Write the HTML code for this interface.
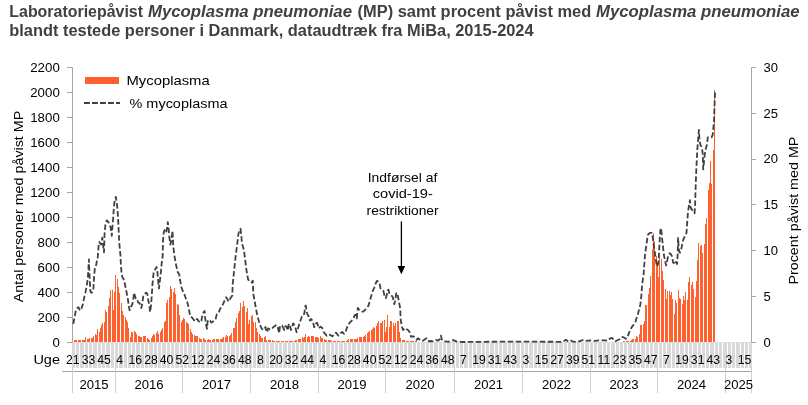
<!DOCTYPE html><html><head><meta charset="utf-8"><style>html,body{margin:0;padding:0;background:#fff;}svg{display:block;will-change:transform;}text{font-family:"Liberation Sans",sans-serif;}</style></head><body>
<svg width="808" height="405" viewBox="0 0 808 405">
<rect width="808" height="405" fill="#fff"/>
<text x="9.3" y="16.7" font-size="16" font-weight="bold" font-style="normal" fill="#404040" textLength="133.7" lengthAdjust="spacingAndGlyphs">Laboratoriepåvist</text>
<text x="148" y="16.7" font-size="16" font-weight="bold" font-style="italic" fill="#404040" textLength="204" lengthAdjust="spacingAndGlyphs">Mycoplasma pneumoniae</text>
<text x="357.6" y="16.7" font-size="16" font-weight="bold" font-style="normal" fill="#404040" textLength="233.6" lengthAdjust="spacingAndGlyphs">(MP) samt procent påvist med</text>
<text x="596" y="16.7" font-size="16" font-weight="bold" font-style="italic" fill="#404040" textLength="203.6" lengthAdjust="spacingAndGlyphs">Mycoplasma pneumoniae</text>
<text x="9.3" y="36.3" font-size="16" font-weight="bold" font-style="normal" fill="#404040" textLength="524.3" lengthAdjust="spacingAndGlyphs">blandt testede personer i Danmark, dataudtræk fra MiBa, 2015-2024</text>
<path d="M72.5 343V367.5M73.5 343V367.5M74.5 343V367.5M76.5 343V367.5M77.5 343V367.5M78.5 343V367.5M80.5 343V367.5M81.5 343V367.5M82.5 343V367.5M83.5 343V367.5M85.5 343V367.5M86.5 343V367.5M87.5 343V367.5M89.5 343V367.5M90.5 343V367.5M91.5 343V367.5M93.5 343V367.5M94.5 343V367.5M95.5 343V367.5M96.5 343V367.5M98.5 343V367.5M99.5 343V367.5M100.5 343V367.5M102.5 343V367.5M103.5 343V367.5M104.5 343V367.5M106.5 343V367.5M107.5 343V367.5M108.5 343V367.5M109.5 343V367.5M111.5 343V367.5M112.5 343V367.5M113.5 343V367.5M115.5 343V367.5M116.5 343V367.5M117.5 343V367.5M119.5 343V367.5M120.5 343V367.5M121.5 343V367.5M122.5 343V367.5M124.5 343V367.5M125.5 343V367.5M126.5 343V367.5M128.5 343V367.5M129.5 343V367.5M130.5 343V367.5M132.5 343V367.5M133.5 343V367.5M134.5 343V367.5M136.5 343V367.5M137.5 343V367.5M138.5 343V367.5M139.5 343V367.5M141.5 343V367.5M142.5 343V367.5M143.5 343V367.5M145.5 343V367.5M146.5 343V367.5M147.5 343V367.5M149.5 343V367.5M150.5 343V367.5M151.5 343V367.5M152.5 343V367.5M154.5 343V367.5M155.5 343V367.5M156.5 343V367.5M158.5 343V367.5M159.5 343V367.5M160.5 343V367.5M162.5 343V367.5M163.5 343V367.5M164.5 343V367.5M165.5 343V367.5M167.5 343V367.5M168.5 343V367.5M169.5 343V367.5M171.5 343V367.5M172.5 343V367.5M173.5 343V367.5M175.5 343V367.5M176.5 343V367.5M177.5 343V367.5M178.5 343V367.5M180.5 343V367.5M181.5 343V367.5M182.5 343V367.5M184.5 343V367.5M185.5 343V367.5M186.5 343V367.5M188.5 343V367.5M189.5 343V367.5M190.5 343V367.5M191.5 343V367.5M193.5 343V367.5M194.5 343V367.5M195.5 343V367.5M197.5 343V367.5M198.5 343V367.5M199.5 343V367.5M201.5 343V367.5M202.5 343V367.5M203.5 343V367.5M204.5 343V367.5M206.5 343V367.5M207.5 343V367.5M208.5 343V367.5M210.5 343V367.5M211.5 343V367.5M212.5 343V367.5M214.5 343V367.5M215.5 343V367.5M216.5 343V367.5M218.5 343V367.5M219.5 343V367.5M220.5 343V367.5M221.5 343V367.5M223.5 343V367.5M224.5 343V367.5M225.5 343V367.5M227.5 343V367.5M228.5 343V367.5M229.5 343V367.5M231.5 343V367.5M232.5 343V367.5M233.5 343V367.5M234.5 343V367.5M236.5 343V367.5M237.5 343V367.5M238.5 343V367.5M240.5 343V367.5M241.5 343V367.5M242.5 343V367.5M244.5 343V367.5M245.5 343V367.5M246.5 343V367.5M247.5 343V367.5M249.5 343V367.5M250.5 343V367.5M251.5 343V367.5M253.5 343V367.5M254.5 343V367.5M255.5 343V367.5M257.5 343V367.5M258.5 343V367.5M259.5 343V367.5M260.5 343V367.5M262.5 343V367.5M263.5 343V367.5M264.5 343V367.5M266.5 343V367.5M267.5 343V367.5M268.5 343V367.5M270.5 343V367.5M271.5 343V367.5M272.5 343V367.5M273.5 343V367.5M275.5 343V367.5M276.5 343V367.5M277.5 343V367.5M279.5 343V367.5M280.5 343V367.5M281.5 343V367.5M283.5 343V367.5M284.5 343V367.5M285.5 343V367.5M286.5 343V367.5M288.5 343V367.5M289.5 343V367.5M290.5 343V367.5M292.5 343V367.5M293.5 343V367.5M294.5 343V367.5M296.5 343V367.5M297.5 343V367.5M298.5 343V367.5M300.5 343V367.5M301.5 343V367.5M302.5 343V367.5M303.5 343V367.5M305.5 343V367.5M306.5 343V367.5M307.5 343V367.5M309.5 343V367.5M310.5 343V367.5M311.5 343V367.5M313.5 343V367.5M314.5 343V367.5M315.5 343V367.5M316.5 343V367.5M318.5 343V367.5M319.5 343V367.5M320.5 343V367.5M322.5 343V367.5M323.5 343V367.5M324.5 343V367.5M326.5 343V367.5M327.5 343V367.5M328.5 343V367.5M329.5 343V367.5M331.5 343V367.5M332.5 343V367.5M333.5 343V367.5M335.5 343V367.5M336.5 343V367.5M337.5 343V367.5M339.5 343V367.5M340.5 343V367.5M341.5 343V367.5M342.5 343V367.5M344.5 343V367.5M345.5 343V367.5M346.5 343V367.5M348.5 343V367.5M349.5 343V367.5M350.5 343V367.5M352.5 343V367.5M353.5 343V367.5M354.5 343V367.5M355.5 343V367.5M357.5 343V367.5M358.5 343V367.5M359.5 343V367.5M361.5 343V367.5M362.5 343V367.5M363.5 343V367.5M365.5 343V367.5M366.5 343V367.5M367.5 343V367.5M368.5 343V367.5M370.5 343V367.5M371.5 343V367.5M372.5 343V367.5M374.5 343V367.5M375.5 343V367.5M376.5 343V367.5M378.5 343V367.5M379.5 343V367.5M380.5 343V367.5M382.5 343V367.5M383.5 343V367.5M384.5 343V367.5M385.5 343V367.5M387.5 343V367.5M388.5 343V367.5M389.5 343V367.5M391.5 343V367.5M392.5 343V367.5M393.5 343V367.5M395.5 343V367.5M396.5 343V367.5M397.5 343V367.5M398.5 343V367.5M400.5 343V367.5M401.5 343V367.5M402.5 343V367.5M404.5 343V367.5M405.5 343V367.5M406.5 343V367.5M408.5 343V367.5M409.5 343V367.5M410.5 343V367.5M411.5 343V367.5M413.5 343V367.5M414.5 343V367.5M415.5 343V367.5M417.5 343V367.5M418.5 343V367.5M419.5 343V367.5M421.5 343V367.5M422.5 343V367.5M423.5 343V367.5M424.5 343V367.5M426.5 343V367.5M427.5 343V367.5M428.5 343V367.5M430.5 343V367.5M431.5 343V367.5M432.5 343V367.5M434.5 343V367.5M435.5 343V367.5M436.5 343V367.5M437.5 343V367.5M439.5 343V367.5M440.5 343V367.5M441.5 343V367.5M443.5 343V367.5M444.5 343V367.5M445.5 343V367.5M447.5 343V367.5M448.5 343V367.5M449.5 343V367.5M450.5 343V367.5M452.5 343V367.5M453.5 343V367.5M454.5 343V367.5M456.5 343V367.5M457.5 343V367.5M458.5 343V367.5M460.5 343V367.5M461.5 343V367.5M462.5 343V367.5M464.5 343V367.5M465.5 343V367.5M466.5 343V367.5M467.5 343V367.5M469.5 343V367.5M470.5 343V367.5M471.5 343V367.5M473.5 343V367.5M474.5 343V367.5M475.5 343V367.5M477.5 343V367.5M478.5 343V367.5M479.5 343V367.5M480.5 343V367.5M482.5 343V367.5M483.5 343V367.5M484.5 343V367.5M486.5 343V367.5M487.5 343V367.5M488.5 343V367.5M490.5 343V367.5M491.5 343V367.5M492.5 343V367.5M493.5 343V367.5M495.5 343V367.5M496.5 343V367.5M497.5 343V367.5M499.5 343V367.5M500.5 343V367.5M501.5 343V367.5M503.5 343V367.5M504.5 343V367.5M505.5 343V367.5M506.5 343V367.5M508.5 343V367.5M509.5 343V367.5M510.5 343V367.5M512.5 343V367.5M513.5 343V367.5M514.5 343V367.5M516.5 343V367.5M517.5 343V367.5M518.5 343V367.5M519.5 343V367.5M521.5 343V367.5M522.5 343V367.5M523.5 343V367.5M525.5 343V367.5M526.5 343V367.5M527.5 343V367.5M529.5 343V367.5M530.5 343V367.5M531.5 343V367.5M532.5 343V367.5M534.5 343V367.5M535.5 343V367.5M536.5 343V367.5M538.5 343V367.5M539.5 343V367.5M540.5 343V367.5M542.5 343V367.5M543.5 343V367.5M544.5 343V367.5M546.5 343V367.5M547.5 343V367.5M548.5 343V367.5M549.5 343V367.5M551.5 343V367.5M552.5 343V367.5M553.5 343V367.5M555.5 343V367.5M556.5 343V367.5M557.5 343V367.5M559.5 343V367.5M560.5 343V367.5M561.5 343V367.5M562.5 343V367.5M564.5 343V367.5M565.5 343V367.5M566.5 343V367.5M568.5 343V367.5M569.5 343V367.5M570.5 343V367.5M572.5 343V367.5M573.5 343V367.5M574.5 343V367.5M575.5 343V367.5M577.5 343V367.5M578.5 343V367.5M579.5 343V367.5M581.5 343V367.5M582.5 343V367.5M583.5 343V367.5M585.5 343V367.5M586.5 343V367.5M587.5 343V367.5M588.5 343V367.5M590.5 343V367.5M591.5 343V367.5M592.5 343V367.5M594.5 343V367.5M595.5 343V367.5M596.5 343V367.5M598.5 343V367.5M599.5 343V367.5M600.5 343V367.5M601.5 343V367.5M603.5 343V367.5M604.5 343V367.5M605.5 343V367.5M607.5 343V367.5M608.5 343V367.5M609.5 343V367.5M611.5 343V367.5M612.5 343V367.5M613.5 343V367.5M614.5 343V367.5M616.5 343V367.5M617.5 343V367.5M618.5 343V367.5M620.5 343V367.5M621.5 343V367.5M622.5 343V367.5M624.5 343V367.5M625.5 343V367.5M626.5 343V367.5M628.5 343V367.5M629.5 343V367.5M630.5 343V367.5M631.5 343V367.5M633.5 343V367.5M634.5 343V367.5M635.5 343V367.5M637.5 343V367.5M638.5 343V367.5M639.5 343V367.5M641.5 343V367.5M642.5 343V367.5M643.5 343V367.5M644.5 343V367.5M646.5 343V367.5M647.5 343V367.5M648.5 343V367.5M650.5 343V367.5M651.5 343V367.5M652.5 343V367.5M654.5 343V367.5M655.5 343V367.5M656.5 343V367.5M657.5 343V367.5M659.5 343V367.5M660.5 343V367.5M661.5 343V367.5M663.5 343V367.5M664.5 343V367.5M665.5 343V367.5M667.5 343V367.5M668.5 343V367.5M669.5 343V367.5M670.5 343V367.5M672.5 343V367.5M673.5 343V367.5M674.5 343V367.5M676.5 343V367.5M677.5 343V367.5M678.5 343V367.5M680.5 343V367.5M681.5 343V367.5M682.5 343V367.5M683.5 343V367.5M685.5 343V367.5M686.5 343V367.5M687.5 343V367.5M689.5 343V367.5M690.5 343V367.5M691.5 343V367.5M693.5 343V367.5M694.5 343V367.5M695.5 343V367.5M696.5 343V367.5M698.5 343V367.5M699.5 343V367.5M700.5 343V367.5M702.5 343V367.5M703.5 343V367.5M704.5 343V367.5M706.5 343V367.5M707.5 343V367.5M708.5 343V367.5M710.5 343V367.5M711.5 343V367.5M712.5 343V367.5M713.5 343V367.5M715.5 343V367.5M716.5 343V367.5M717.5 343V367.5M719.5 343V367.5M720.5 343V367.5M721.5 343V367.5M723.5 343V367.5M724.5 343V367.5M725.5 343V367.5M726.5 343V367.5M728.5 343V367.5M729.5 343V367.5M730.5 343V367.5M732.5 343V367.5M733.5 343V367.5M734.5 343V367.5M736.5 343V367.5M737.5 343V367.5M738.5 343V367.5M739.5 343V367.5M741.5 343V367.5M742.5 343V367.5M743.5 343V367.5M745.5 343V367.5M746.5 343V367.5M747.5 343V367.5M749.5 343V367.5M750.5 343V367.5M751.5 343V367.5" stroke="#d9d9d9" stroke-width="1" fill="none" shape-rendering="crispEdges"/>
<path d="M72 342.5H752" stroke="#dadfdf" stroke-width="1" shape-rendering="crispEdges"/>
<path d="M72 342h1V340h-1ZM74 342h1V340h-1ZM75 342h1V339.5h-1ZM76 342h1V339.5h-1ZM78 342h1V340h-1ZM79 342h1V339.5h-1ZM80 342h1V339.5h-1ZM82 342h1V339.5h-1ZM83 342h1V339.5h-1ZM84 342h1V339.5h-1ZM85 342h1V337h-1ZM87 342h1V339h-1ZM88 342h1V338.5h-1ZM89 342h1V338h-1ZM91 342h1V338h-1ZM92 342h1V338h-1ZM93 342h1V336h-1ZM95 342h1V333.5h-1ZM96 342h1V334.5h-1ZM97 342h1V329h-1ZM99 342h1V332h-1ZM100 342h1V327.5h-1ZM101 342h1V325h-1ZM102 342h1V322.5h-1ZM104 342h1V321.5h-1ZM105 342h1V309.5h-1ZM106 342h1V311.5h-1ZM108 342h1V306h-1ZM109 342h1V297.5h-1ZM110 342h1V289.5h-1ZM112 342h1V289.5h-1ZM113 342h1V309.5h-1ZM114 342h1V292h-1ZM115 342h1V274.5h-1ZM117 342h1V279h-1ZM118 342h1V286.5h-1ZM119 342h1V293h-1ZM121 342h1V303h-1ZM122 342h1V310.5h-1ZM123 342h1V315h-1ZM125 342h1V317h-1ZM126 342h1V319.5h-1ZM127 342h1V321.5h-1ZM128 342h1V327.5h-1ZM130 342h1V336.5h-1ZM131 342h1V332h-1ZM132 342h1V331.5h-1ZM134 342h1V331h-1ZM135 342h1V332h-1ZM136 342h1V333.5h-1ZM138 342h1V335.5h-1ZM139 342h1V336h-1ZM140 342h1V336.5h-1ZM141 342h1V336.5h-1ZM143 342h1V336h-1ZM144 342h1V335.5h-1ZM145 342h1V336h-1ZM147 342h1V338h-1ZM148 342h1V338.5h-1ZM149 342h1V339.5h-1ZM151 342h1V338h-1ZM152 342h1V336h-1ZM153 342h1V333.5h-1ZM154 342h1V335h-1ZM156 342h1V333h-1ZM157 342h1V331h-1ZM158 342h1V333.5h-1ZM160 342h1V332h-1ZM161 342h1V329.5h-1ZM162 342h1V327.5h-1ZM164 342h1V321.5h-1ZM165 342h1V321h-1ZM166 342h1V302.5h-1ZM167 342h1V299.5h-1ZM169 342h1V296.5h-1ZM170 342h1V285.5h-1ZM171 342h1V289h-1ZM173 342h1V292h-1ZM174 342h1V287.5h-1ZM175 342h1V294h-1ZM177 342h1V304h-1ZM178 342h1V305h-1ZM179 342h1V314.5h-1ZM181 342h1V321.5h-1ZM182 342h1V320h-1ZM183 342h1V318h-1ZM184 342h1V319h-1ZM186 342h1V321.5h-1ZM187 342h1V322.5h-1ZM188 342h1V323.5h-1ZM190 342h1V329h-1ZM191 342h1V332h-1ZM192 342h1V333.5h-1ZM194 342h1V335h-1ZM195 342h1V336h-1ZM196 342h1V336h-1ZM197 342h1V336h-1ZM199 342h1V337.5h-1ZM200 342h1V339h-1ZM201 342h1V338.5h-1ZM203 342h1V337.5h-1ZM204 342h1V339h-1ZM205 342h1V339.5h-1ZM207 342h1V340h-1ZM208 342h1V338.5h-1ZM209 342h1V340h-1ZM210 342h1V340h-1ZM212 342h1V339.5h-1ZM213 342h1V339h-1ZM214 342h1V339h-1ZM216 342h1V339h-1ZM217 342h1V339h-1ZM218 342h1V339h-1ZM220 342h1V339h-1ZM221 342h1V338.5h-1ZM222 342h1V338h-1ZM223 342h1V337h-1ZM225 342h1V337h-1ZM226 342h1V335h-1ZM227 342h1V335.5h-1ZM229 342h1V335.5h-1ZM230 342h1V334.5h-1ZM231 342h1V333h-1ZM233 342h1V328h-1ZM234 342h1V327.5h-1ZM235 342h1V322h-1ZM236 342h1V317.5h-1ZM238 342h1V313h-1ZM239 342h1V310.5h-1ZM240 342h1V303h-1ZM242 342h1V307h-1ZM243 342h1V301h-1ZM244 342h1V305.5h-1ZM246 342h1V312h-1ZM247 342h1V308h-1ZM248 342h1V324h-1ZM249 342h1V320h-1ZM251 342h1V316h-1ZM252 342h1V315h-1ZM253 342h1V322h-1ZM255 342h1V322h-1ZM256 342h1V328h-1ZM257 342h1V331.5h-1ZM259 342h1V333.5h-1ZM260 342h1V336h-1ZM261 342h1V338h-1ZM262 342h1V338h-1ZM264 342h1V337h-1ZM265 342h1V336h-1ZM266 342h1V340h-1ZM268 342h1V340h-1ZM269 342h1V340h-1ZM270 342h1V340h-1ZM272 342h1V340h-1ZM273 342h1V340.5h-1ZM274 342h1V340.5h-1ZM276 342h1V340.5h-1ZM277 342h1V340.5h-1ZM278 342h1V340.5h-1ZM279 342h1V340.5h-1ZM281 342h1V340.5h-1ZM282 342h1V340.5h-1ZM283 342h1V340.5h-1ZM285 342h1V340.5h-1ZM286 342h1V340.5h-1ZM287 342h1V340.5h-1ZM289 342h1V340.5h-1ZM290 342h1V340.5h-1ZM291 342h1V340.5h-1ZM292 342h1V340.5h-1ZM294 342h1V340.5h-1ZM295 342h1V340h-1ZM296 342h1V340h-1ZM298 342h1V339h-1ZM299 342h1V338.5h-1ZM300 342h1V338.5h-1ZM302 342h1V337h-1ZM303 342h1V337.5h-1ZM304 342h1V337h-1ZM305 342h1V334h-1ZM307 342h1V337h-1ZM308 342h1V336h-1ZM309 342h1V336.5h-1ZM311 342h1V336h-1ZM312 342h1V336h-1ZM313 342h1V336h-1ZM315 342h1V336.5h-1ZM316 342h1V336.5h-1ZM317 342h1V337h-1ZM318 342h1V338h-1ZM320 342h1V336h-1ZM321 342h1V338h-1ZM322 342h1V337.5h-1ZM324 342h1V339h-1ZM325 342h1V340h-1ZM326 342h1V340h-1ZM328 342h1V340h-1ZM329 342h1V340h-1ZM330 342h1V340h-1ZM331 342h1V340.5h-1ZM333 342h1V340.5h-1ZM334 342h1V340.5h-1ZM335 342h1V340.5h-1ZM337 342h1V340.5h-1ZM338 342h1V340.5h-1ZM339 342h1V340.5h-1ZM341 342h1V340.5h-1ZM342 342h1V340.5h-1ZM343 342h1V340.5h-1ZM344 342h1V340.5h-1ZM346 342h1V340.5h-1ZM347 342h1V340h-1ZM348 342h1V339h-1ZM350 342h1V339h-1ZM351 342h1V339h-1ZM352 342h1V339h-1ZM354 342h1V339h-1ZM355 342h1V339h-1ZM356 342h1V338.5h-1ZM357 342h1V338h-1ZM359 342h1V337h-1ZM360 342h1V337h-1ZM361 342h1V337h-1ZM363 342h1V337h-1ZM364 342h1V336h-1ZM365 342h1V334.5h-1ZM367 342h1V333h-1ZM368 342h1V332h-1ZM369 342h1V330.5h-1ZM371 342h1V329.5h-1ZM372 342h1V329h-1ZM373 342h1V326.5h-1ZM374 342h1V327.5h-1ZM376 342h1V325.5h-1ZM377 342h1V322.5h-1ZM378 342h1V321h-1ZM380 342h1V322.5h-1ZM381 342h1V322.5h-1ZM382 342h1V320.5h-1ZM384 342h1V319.5h-1ZM385 342h1V332h-1ZM386 342h1V326.5h-1ZM387 342h1V315h-1ZM389 342h1V326.5h-1ZM390 342h1V321h-1ZM391 342h1V321h-1ZM393 342h1V322.5h-1ZM394 342h1V326h-1ZM395 342h1V322.5h-1ZM397 342h1V321h-1ZM398 342h1V321h-1ZM399 342h1V332h-1ZM400 342h1V338h-1ZM402 342h1V339.5h-1ZM403 342h1V340h-1ZM404 342h1V340h-1ZM406 342h1V340.5h-1ZM407 342h1V340.5h-1ZM408 342h1V340.5h-1ZM410 342h1V341h-1ZM411 342h1V341h-1ZM412 342h1V341h-1ZM413 342h1V341h-1ZM415 342h1V341h-1ZM416 342h1V341h-1ZM417 342h1V341.5h-1ZM419 342h1V341.5h-1ZM420 342h1V341.5h-1ZM421 342h1V341.5h-1ZM423 342h1V341.5h-1ZM424 342h1V341.5h-1ZM425 342h1V341.5h-1ZM426 342h1V341.5h-1ZM428 342h1V341.5h-1ZM429 342h1V341.5h-1ZM430 342h1V341.5h-1ZM432 342h1V341.5h-1ZM433 342h1V341.5h-1ZM434 342h1V341.5h-1ZM436 342h1V341.5h-1ZM437 342h1V341.5h-1ZM438 342h1V341.5h-1ZM439 342h1V341.5h-1ZM441 342h1V341.5h-1ZM442 342h1V341.5h-1ZM443 342h1V341.5h-1ZM445 342h1V341.5h-1ZM446 342h1V341.5h-1ZM447 342h1V341.5h-1ZM449 342h1V341.5h-1ZM450 342h1V341.5h-1ZM451 342h1V341.5h-1ZM453 342h1V341.5h-1ZM454 342h1V341.5h-1ZM455 342h1V341.5h-1ZM456 342h1V341.5h-1ZM458 342h1V341.5h-1ZM459 342h1V341.5h-1ZM460 342h1V341.5h-1ZM462 342h1V341.5h-1ZM463 342h1V341.5h-1ZM464 342h1V341.5h-1ZM466 342h1V341.5h-1ZM467 342h1V341.5h-1ZM564 342h1V341.5h-1ZM566 342h1V341.5h-1ZM567 342h1V341.5h-1ZM568 342h1V341.5h-1ZM570 342h1V341.5h-1ZM571 342h1V341.5h-1ZM572 342h1V341.5h-1ZM574 342h1V341.5h-1ZM575 342h1V341.5h-1ZM576 342h1V341.5h-1ZM577 342h1V341.5h-1ZM579 342h1V341.5h-1ZM580 342h1V341.5h-1ZM581 342h1V341.5h-1ZM583 342h1V341.5h-1ZM584 342h1V341.5h-1ZM585 342h1V341.5h-1ZM587 342h1V341.5h-1ZM588 342h1V341.5h-1ZM589 342h1V341.5h-1ZM590 342h1V341.5h-1ZM592 342h1V341.5h-1ZM593 342h1V341.5h-1ZM594 342h1V341.5h-1ZM596 342h1V341.5h-1ZM597 342h1V341.5h-1ZM598 342h1V341.5h-1ZM600 342h1V341.5h-1ZM601 342h1V341.5h-1ZM602 342h1V341.5h-1ZM603 342h1V341.5h-1ZM605 342h1V341.5h-1ZM606 342h1V341.5h-1ZM607 342h1V341.5h-1ZM609 342h1V341.5h-1ZM610 342h1V341.5h-1ZM611 342h1V341.5h-1ZM613 342h1V341.5h-1ZM614 342h1V341.5h-1ZM615 342h1V341.5h-1ZM616 342h1V341.5h-1ZM618 342h1V341.5h-1ZM619 342h1V341.5h-1ZM620 342h1V341.5h-1ZM622 342h1V341.5h-1ZM623 342h1V341h-1ZM624 342h1V341h-1ZM626 342h1V341h-1ZM627 342h1V341h-1ZM628 342h1V340.5h-1ZM630 342h1V340.5h-1ZM631 342h1V340h-1ZM632 342h1V338.5h-1ZM633 342h1V339h-1ZM635 342h1V339h-1ZM636 342h1V335.5h-1ZM637 342h1V337h-1ZM639 342h1V333.5h-1ZM640 342h1V324.5h-1ZM641 342h1V325h-1ZM643 342h1V323.5h-1ZM644 342h1V321h-1ZM645 342h1V305h-1ZM646 342h1V305h-1ZM648 342h1V294h-1ZM649 342h1V288h-1ZM650 342h1V275.5h-1ZM652 342h1V248.5h-1ZM653 342h1V233h-1ZM654 342h1V241h-1ZM656 342h1V256h-1ZM657 342h1V263h-1ZM658 342h1V277h-1ZM659 342h1V256.5h-1ZM661 342h1V259h-1ZM662 342h1V271h-1ZM663 342h1V280h-1ZM665 342h1V288.5h-1ZM666 342h1V299h-1ZM667 342h1V291h-1ZM669 342h1V291h-1ZM670 342h1V294.5h-1ZM671 342h1V292h-1ZM672 342h1V299h-1ZM674 342h1V314h-1ZM675 342h1V299.5h-1ZM676 342h1V303h-1ZM678 342h1V290h-1ZM679 342h1V297.5h-1ZM680 342h1V299h-1ZM682 342h1V304h-1ZM683 342h1V296h-1ZM684 342h1V299.5h-1ZM685 342h1V292h-1ZM687 342h1V299.5h-1ZM688 342h1V282h-1ZM689 342h1V277h-1ZM691 342h1V284.5h-1ZM692 342h1V282h-1ZM693 342h1V289h-1ZM695 342h1V297h-1ZM696 342h1V281h-1ZM697 342h1V260h-1ZM698 342h1V243h-1ZM700 342h1V245.5h-1ZM701 342h1V244.5h-1ZM702 342h1V253h-1ZM704 342h1V243.5h-1ZM705 342h1V223.5h-1ZM706 342h1V218h-1ZM708 342h1V189.5h-1ZM709 342h1V182.5h-1ZM710 342h1V161h-1ZM711 342h1V183.5h-1ZM713 342h1V150h-1ZM714 342h1V90h-1Z" fill="#FF612E" shape-rendering="crispEdges"/>
<path d="M72.5 67.4V342.4M751.5 67.4V342.4" stroke="#a6a6a6" stroke-width="1" fill="none"/>
<path d="M67 342.5H72.5M67 317.5H72.5M67 292.5H72.5M67 267.5H72.5M67 242.5H72.5M67 217.5H72.5M67 192.5H72.5M67 167.5H72.5M67 142.5H72.5M67 117.5H72.5M67 92.5H72.5M67 67.5H72.5M751.5 342.5H756M751.5 296.5H756M751.5 250.5H756M751.5 204.5H756M751.5 159.5H756M751.5 113.5H756M751.5 67.5H756" stroke="#a6a6a6" stroke-width="1" fill="none"/>
<text x="59.8" y="346.7" font-size="12.2" font-weight="normal" font-style="normal" fill="#000" text-anchor="end" textLength="7.39" lengthAdjust="spacingAndGlyphs">0</text>
<text x="59.8" y="321.7" font-size="12.2" font-weight="normal" font-style="normal" fill="#000" text-anchor="end" textLength="22.17" lengthAdjust="spacingAndGlyphs">200</text>
<text x="59.8" y="296.7" font-size="12.2" font-weight="normal" font-style="normal" fill="#000" text-anchor="end" textLength="22.17" lengthAdjust="spacingAndGlyphs">400</text>
<text x="59.8" y="271.7" font-size="12.2" font-weight="normal" font-style="normal" fill="#000" text-anchor="end" textLength="22.17" lengthAdjust="spacingAndGlyphs">600</text>
<text x="59.8" y="246.7" font-size="12.2" font-weight="normal" font-style="normal" fill="#000" text-anchor="end" textLength="22.17" lengthAdjust="spacingAndGlyphs">800</text>
<text x="59.8" y="221.7" font-size="12.2" font-weight="normal" font-style="normal" fill="#000" text-anchor="end" textLength="29.56" lengthAdjust="spacingAndGlyphs">1000</text>
<text x="59.8" y="196.7" font-size="12.2" font-weight="normal" font-style="normal" fill="#000" text-anchor="end" textLength="29.56" lengthAdjust="spacingAndGlyphs">1200</text>
<text x="59.8" y="171.7" font-size="12.2" font-weight="normal" font-style="normal" fill="#000" text-anchor="end" textLength="29.56" lengthAdjust="spacingAndGlyphs">1400</text>
<text x="59.8" y="146.7" font-size="12.2" font-weight="normal" font-style="normal" fill="#000" text-anchor="end" textLength="29.56" lengthAdjust="spacingAndGlyphs">1600</text>
<text x="59.8" y="121.7" font-size="12.2" font-weight="normal" font-style="normal" fill="#000" text-anchor="end" textLength="29.56" lengthAdjust="spacingAndGlyphs">1800</text>
<text x="59.8" y="96.7" font-size="12.2" font-weight="normal" font-style="normal" fill="#000" text-anchor="end" textLength="29.56" lengthAdjust="spacingAndGlyphs">2000</text>
<text x="59.8" y="71.7" font-size="12.2" font-weight="normal" font-style="normal" fill="#000" text-anchor="end" textLength="29.56" lengthAdjust="spacingAndGlyphs">2200</text>
<text x="763.6" y="346.7" font-size="12.2" font-weight="normal" font-style="normal" fill="#000" textLength="7.25" lengthAdjust="spacingAndGlyphs">0</text>
<text x="763.6" y="300.87" font-size="12.2" font-weight="normal" font-style="normal" fill="#000" textLength="7.25" lengthAdjust="spacingAndGlyphs">5</text>
<text x="763.6" y="255.03" font-size="12.2" font-weight="normal" font-style="normal" fill="#000" textLength="14.51" lengthAdjust="spacingAndGlyphs">10</text>
<text x="763.6" y="209.2" font-size="12.2" font-weight="normal" font-style="normal" fill="#000" textLength="14.51" lengthAdjust="spacingAndGlyphs">15</text>
<text x="763.6" y="163.37" font-size="12.2" font-weight="normal" font-style="normal" fill="#000" textLength="14.51" lengthAdjust="spacingAndGlyphs">20</text>
<text x="763.6" y="117.53" font-size="12.2" font-weight="normal" font-style="normal" fill="#000" textLength="14.51" lengthAdjust="spacingAndGlyphs">25</text>
<text x="763.6" y="71.7" font-size="12.2" font-weight="normal" font-style="normal" fill="#000" textLength="14.51" lengthAdjust="spacingAndGlyphs">30</text>
<path d="M73.3 323.9 L74.4 318.3 L75.6 311.7 L76.7 308.3 L78.4 307.2 L80 310.6 L81.5 308.6 L82.9 303.9 L84 298.3 L85.6 291.7 L86.7 286.1 L87.8 278.3 L88.4 269.4 L88.9 259.4 L89.4 272 L90 285 L90.4 291.7 L91.8 292.8 L93.3 290.6 L94 278.3 L94.9 267.2 L96.2 265 L97.1 259.4 L97.6 259.2 L98.5 247.1 L99.3 241.9 L101.1 244.5 L102.3 237.6 L103.3 247.1 L104 252.3 L104.5 235 L105.4 224.6 L106.8 220.3 L108.8 222.9 L110.6 227.2 L111.8 235.8 L112.3 228.9 L113.2 217.7 L114 205.6 L114.9 199.5 L115.8 196.9 L116.6 202.1 L117.5 209 L118.4 224.6 L119.2 241.9 L120.4 255 L120.9 264.6 L121.5 272.7 L122.5 277.5 L124.1 279.9 L125.2 285.5 L126.8 293.5 L128 300 L128.9 306.4 L129.6 310.4 L130.8 307.2 L132.4 304 L133.2 300 L134 292.7 L134.9 295.9 L135.7 298.3 L136.9 298.3 L138.1 302.4 L139.7 303.2 L141.3 308 L142.4 303.2 L143.4 295.1 L144.5 294.3 L146.1 292.7 L147.2 293.5 L148.2 300 L149.3 304.8 L150.1 312 L150.9 306.4 L151.7 296.7 L152.5 283.9 L153.6 272.7 L155.2 269.4 L156.5 267 L157.3 271 L158.1 279.9 L158.9 288.7 L160.1 279.1 L161 271 L161.7 263 L162.6 257.4 L163 241.1 L163.5 234.2 L164.2 230.8 L165.6 229 L166.4 231.6 L167.3 227.3 L167.8 222.1 L168.7 229 L169.4 237.7 L170.4 244.6 L171.6 239.4 L172.5 230.8 L173.3 246.7 L174.4 255.6 L176.2 265.6 L177.8 272.2 L179.3 274.4 L180 280 L181.6 287.8 L182.9 291.1 L184.4 294.4 L185.6 297.8 L187.3 302.2 L188.9 308.9 L190 315.6 L192.2 317.8 L194 320.2 L195.3 321.4 L197.1 318.9 L198.4 320.8 L200.2 322.6 L201.4 320.8 L202 317.1 L203.3 312.8 L204.5 310.9 L205.1 317.7 L206.4 326.3 L207 328.8 L207.6 321.4 L208.8 319.5 L210.1 320.8 L211.3 322.6 L212.5 322 L213.8 320.8 L215.6 318.9 L216.9 314 L218.7 312.8 L220 309 L221.8 306.6 L223 304.1 L224.9 299.8 L226.1 297.3 L227.4 299.2 L228.6 301.6 L229.8 299.2 L231.1 297.3 L232.3 295.5 L232.7 284.2 L233.2 279 L234.5 266.9 L235.8 254.8 L237.2 244.4 L238.4 234 L239.3 230.6 L240.5 228.8 L241.4 235.8 L241.9 243.5 L243.1 247 L244.1 251.3 L245.4 261.7 L246.2 268.6 L247.1 273.8 L248 279 L249.3 281.6 L251.4 282.5 L252.8 280.7 L253.3 294.2 L254.5 300.4 L255.8 307.8 L257 314 L258.2 318.9 L259.5 323.2 L260.7 326.3 L261.9 328.8 L263.2 330 L264.4 328.8 L265.6 327 L266 330 L267.1 332.2 L268.2 328.3 L269.9 329.4 L271.5 329.4 L273.2 327.2 L274.9 326.1 L276.6 325 L277.7 326.7 L278.4 330 L279.1 333.3 L279.9 327.2 L281 325 L282.1 325.6 L283.2 327.8 L284.3 330 L285.4 326.1 L286.6 326.7 L287.7 330.6 L288.8 323.9 L289.9 325.6 L291 330 L292.1 327.2 L293.2 323.3 L294.3 325 L295.4 327.8 L296.6 332.2 L297.7 328.9 L298.2 327.8 L299.3 323.9 L300.7 320 L301.8 316.7 L302.9 314.4 L304.3 313.9 L305.1 306.7 L305.8 305.6 L306.6 311.1 L307.3 313.9 L308.8 316.7 L309.9 320.6 L311 318.9 L312.7 321.1 L314.3 327.2 L315.4 323.9 L317.1 322.8 L318.8 328.3 L320.4 326.7 L322.1 327.8 L323.8 332.2 L324.9 333.6 L326.8 335.7 L328.6 334.4 L330.4 335 L332.3 336.3 L334.2 335 L336 332.6 L337.3 334.4 L338.5 335.7 L340.4 333.2 L342.2 332 L344.1 333.8 L345.3 333.2 L346.5 328.9 L347.8 325.8 L349.6 322.7 L351.5 320.9 L353.3 319 L354.6 315.3 L355.8 314.7 L356.8 318.4 L357.3 311.6 L357.9 307.9 L359.5 310.4 L361.4 311.6 L363.2 311.6 L365.1 309.8 L366.9 307.9 L368.5 305.6 L371 296.7 L373 290.3 L374.4 287.3 L375.9 282.9 L376.9 280.9 L377.9 281.4 L378.9 282 L379.9 285.3 L380.4 288.3 L381.9 290.3 L383.3 290.8 L384.3 294.8 L385.8 298.2 L386.8 294.8 L387.8 290.3 L388.6 289.8 L389.3 293.8 L390.8 295.2 L392.3 296.2 L393.2 298.7 L394.2 304.2 L395.2 300.7 L396.2 293.3 L397.2 292.8 L398.2 297.7 L398.9 301.7 L399.7 305.6 L400.2 308.6 L400.7 320 L402 326.7 L403 330 L405 328 L406.7 329.3 L408 330 L410 332.7 L411 336.7 L413.7 336.3 L415.3 338.7 L416.7 339.7 L418.3 338.3 L420 340 L421.3 341 L423 340.7 L425 339.3 L426.7 338.3 L428.7 341.3 L430.7 341 L432.7 341.3 L434.5 341 L436.3 340 L438 340.7 L439.7 339.3 L441 335.7 L441.7 339.3 L442.7 341 L444.7 341.3 L446.7 341.7 L449.3 341.7 L451 341 L453.3 340.2 L457 341.7 L464.4 342 L480 341.8 L500 341.7 L540 341.7 L558 341.8 L563 341.8 L565.9 339.8 L568 341.3 L570.3 340.3 L572.5 341.3 L574.8 341.8 L577.7 341.8 L580.7 340.8 L583.7 339.8 L586.7 340.8 L589.7 340.3 L592.7 340.8 L595.6 340.8 L598.6 340.3 L601.5 340.3 L604.5 340.3 L607.5 340.8 L610.4 338.3 L611.9 337.8 L613.4 339.3 L615.4 341.3 L617.4 340.3 L619.4 339.3 L620.8 337.8 L622.3 336.9 L624.3 337.8 L625.8 338.8 L627.3 337.8 L628.8 333.4 L630.2 329.9 L632.2 326.5 L634.2 324 L635.4 322.2 L636.6 317.8 L637.8 314.8 L639.1 309.2 L640.3 304.9 L641.2 297.5 L642.2 284.3 L643.6 273.9 L644.5 262 L645 254.7 L646 247.7 L647 240.8 L647.5 235.9 L648.5 233.9 L649.9 232.9 L651.9 232.9 L652.7 236.9 L653.4 242.8 L654.4 249.7 L655.4 256.6 L656.4 263.5 L657.3 266.5 L658.3 263 L658.8 257.6 L659.3 247.7 L659.8 237.9 L660.3 231 L660.8 228 L661.5 232 L662 237.9 L662.8 244.8 L663.3 249.7 L664.2 256.6 L665.2 261.6 L666.2 265.5 L667.2 260.6 L668.2 255.6 L669.7 253.2 L671.2 254.7 L672.1 256.6 L673.1 262.6 L674.1 263 L675.1 260.6 L676.1 262 L677.1 264 L677.6 255.6 L678.1 237.9 L678.6 245.8 L679.1 251.7 L680 252.7 L681 250.7 L682 245.3 L683 240.3 L684.5 236.9 L685.5 234.9 L686.5 232.9 L687.4 219.4 L688 212 L688.9 205.8 L689.9 200.2 L690.5 207 L691.7 209.5 L693 210.7 L694.6 213.2 L695.1 204.6 L695.4 194.7 L695.8 182.3 L696.3 170 L696.7 162 L697.3 149.7 L698.3 137.3 L698.9 129.9 L699.5 139.8 L700.4 144.8 L702 147.8 L702.8 154.6 L703.2 169.4 L704.1 160.8 L704.7 154.6 L705.7 149.1 L706.9 144.8 L707.8 137.3 L709.6 137.3 L711.5 137.3 L712.7 134.9 L713.3 128.7 L714 122 L714.5 106 L715.1 91.5" stroke="#404040" stroke-width="1.8" fill="none" stroke-dasharray="5.5 2.5" stroke-linejoin="round"/>
<path d="M62 371.5H752" stroke="#a6a6a6" stroke-width="1" fill="none"/>
<path d="M72.5 367.4V393M115.5 367.4V393M182.5 367.4V393M250.5 367.4V393M318.5 367.4V393M385.5 367.4V393M454.5 367.4V393M522.5 367.4V393M590.5 367.4V393M657.5 367.4V393M725.5 367.4V393M751.5 367.4V393" stroke="#d0d0d0" stroke-width="1" fill="none"/>
<text x="94" y="388.9" font-size="12.2" font-weight="normal" font-style="normal" fill="#000" text-anchor="middle" textLength="29.15" lengthAdjust="spacingAndGlyphs">2015</text>
<text x="149" y="388.9" font-size="12.2" font-weight="normal" font-style="normal" fill="#000" text-anchor="middle" textLength="29.15" lengthAdjust="spacingAndGlyphs">2016</text>
<text x="216.5" y="388.9" font-size="12.2" font-weight="normal" font-style="normal" fill="#000" text-anchor="middle" textLength="29.15" lengthAdjust="spacingAndGlyphs">2017</text>
<text x="284.5" y="388.9" font-size="12.2" font-weight="normal" font-style="normal" fill="#000" text-anchor="middle" textLength="29.15" lengthAdjust="spacingAndGlyphs">2018</text>
<text x="352" y="388.9" font-size="12.2" font-weight="normal" font-style="normal" fill="#000" text-anchor="middle" textLength="29.15" lengthAdjust="spacingAndGlyphs">2019</text>
<text x="420" y="388.9" font-size="12.2" font-weight="normal" font-style="normal" fill="#000" text-anchor="middle" textLength="29.15" lengthAdjust="spacingAndGlyphs">2020</text>
<text x="488.5" y="388.9" font-size="12.2" font-weight="normal" font-style="normal" fill="#000" text-anchor="middle" textLength="29.15" lengthAdjust="spacingAndGlyphs">2021</text>
<text x="556.5" y="388.9" font-size="12.2" font-weight="normal" font-style="normal" fill="#000" text-anchor="middle" textLength="29.15" lengthAdjust="spacingAndGlyphs">2022</text>
<text x="624" y="388.9" font-size="12.2" font-weight="normal" font-style="normal" fill="#000" text-anchor="middle" textLength="29.15" lengthAdjust="spacingAndGlyphs">2023</text>
<text x="691.5" y="388.9" font-size="12.2" font-weight="normal" font-style="normal" fill="#000" text-anchor="middle" textLength="29.15" lengthAdjust="spacingAndGlyphs">2024</text>
<text x="738.5" y="388.9" font-size="12.2" font-weight="normal" font-style="normal" fill="#000" text-anchor="middle" textLength="29.15" lengthAdjust="spacingAndGlyphs">2025</text>
<text x="72.88" y="364" font-size="12.2" font-weight="normal" font-style="normal" fill="#000" text-anchor="middle">21</text>
<text x="88.5" y="364" font-size="12.2" font-weight="normal" font-style="normal" fill="#000" text-anchor="middle">33</text>
<text x="104.12" y="364" font-size="12.2" font-weight="normal" font-style="normal" fill="#000" text-anchor="middle">45</text>
<text x="119.74" y="364" font-size="12.2" font-weight="normal" font-style="normal" fill="#000" text-anchor="middle">4</text>
<text x="135.36" y="364" font-size="12.2" font-weight="normal" font-style="normal" fill="#000" text-anchor="middle">16</text>
<text x="150.98" y="364" font-size="12.2" font-weight="normal" font-style="normal" fill="#000" text-anchor="middle">28</text>
<text x="166.6" y="364" font-size="12.2" font-weight="normal" font-style="normal" fill="#000" text-anchor="middle">40</text>
<text x="182.22" y="364" font-size="12.2" font-weight="normal" font-style="normal" fill="#000" text-anchor="middle">52</text>
<text x="197.83" y="364" font-size="12.2" font-weight="normal" font-style="normal" fill="#000" text-anchor="middle">12</text>
<text x="213.45" y="364" font-size="12.2" font-weight="normal" font-style="normal" fill="#000" text-anchor="middle">24</text>
<text x="229.07" y="364" font-size="12.2" font-weight="normal" font-style="normal" fill="#000" text-anchor="middle">36</text>
<text x="244.69" y="364" font-size="12.2" font-weight="normal" font-style="normal" fill="#000" text-anchor="middle">48</text>
<text x="260.31" y="364" font-size="12.2" font-weight="normal" font-style="normal" fill="#000" text-anchor="middle">8</text>
<text x="275.93" y="364" font-size="12.2" font-weight="normal" font-style="normal" fill="#000" text-anchor="middle">20</text>
<text x="291.55" y="364" font-size="12.2" font-weight="normal" font-style="normal" fill="#000" text-anchor="middle">32</text>
<text x="307.17" y="364" font-size="12.2" font-weight="normal" font-style="normal" fill="#000" text-anchor="middle">44</text>
<text x="322.79" y="364" font-size="12.2" font-weight="normal" font-style="normal" fill="#000" text-anchor="middle">4</text>
<text x="338.41" y="364" font-size="12.2" font-weight="normal" font-style="normal" fill="#000" text-anchor="middle">16</text>
<text x="354.03" y="364" font-size="12.2" font-weight="normal" font-style="normal" fill="#000" text-anchor="middle">28</text>
<text x="369.65" y="364" font-size="12.2" font-weight="normal" font-style="normal" fill="#000" text-anchor="middle">40</text>
<text x="385.26" y="364" font-size="12.2" font-weight="normal" font-style="normal" fill="#000" text-anchor="middle">52</text>
<text x="400.88" y="364" font-size="12.2" font-weight="normal" font-style="normal" fill="#000" text-anchor="middle">12</text>
<text x="416.5" y="364" font-size="12.2" font-weight="normal" font-style="normal" fill="#000" text-anchor="middle">24</text>
<text x="432.12" y="364" font-size="12.2" font-weight="normal" font-style="normal" fill="#000" text-anchor="middle">36</text>
<text x="447.74" y="364" font-size="12.2" font-weight="normal" font-style="normal" fill="#000" text-anchor="middle">48</text>
<text x="463.36" y="364" font-size="12.2" font-weight="normal" font-style="normal" fill="#000" text-anchor="middle">7</text>
<text x="478.98" y="364" font-size="12.2" font-weight="normal" font-style="normal" fill="#000" text-anchor="middle">19</text>
<text x="494.6" y="364" font-size="12.2" font-weight="normal" font-style="normal" fill="#000" text-anchor="middle">31</text>
<text x="510.22" y="364" font-size="12.2" font-weight="normal" font-style="normal" fill="#000" text-anchor="middle">43</text>
<text x="525.84" y="364" font-size="12.2" font-weight="normal" font-style="normal" fill="#000" text-anchor="middle">3</text>
<text x="541.46" y="364" font-size="12.2" font-weight="normal" font-style="normal" fill="#000" text-anchor="middle">15</text>
<text x="557.08" y="364" font-size="12.2" font-weight="normal" font-style="normal" fill="#000" text-anchor="middle">27</text>
<text x="572.7" y="364" font-size="12.2" font-weight="normal" font-style="normal" fill="#000" text-anchor="middle">39</text>
<text x="588.31" y="364" font-size="12.2" font-weight="normal" font-style="normal" fill="#000" text-anchor="middle">51</text>
<text x="603.93" y="364" font-size="12.2" font-weight="normal" font-style="normal" fill="#000" text-anchor="middle">11</text>
<text x="619.55" y="364" font-size="12.2" font-weight="normal" font-style="normal" fill="#000" text-anchor="middle">23</text>
<text x="635.17" y="364" font-size="12.2" font-weight="normal" font-style="normal" fill="#000" text-anchor="middle">35</text>
<text x="650.79" y="364" font-size="12.2" font-weight="normal" font-style="normal" fill="#000" text-anchor="middle">47</text>
<text x="666.41" y="364" font-size="12.2" font-weight="normal" font-style="normal" fill="#000" text-anchor="middle">7</text>
<text x="682.03" y="364" font-size="12.2" font-weight="normal" font-style="normal" fill="#000" text-anchor="middle">19</text>
<text x="697.65" y="364" font-size="12.2" font-weight="normal" font-style="normal" fill="#000" text-anchor="middle">31</text>
<text x="713.27" y="364" font-size="12.2" font-weight="normal" font-style="normal" fill="#000" text-anchor="middle">43</text>
<text x="728.89" y="364" font-size="12.2" font-weight="normal" font-style="normal" fill="#000" text-anchor="middle">3</text>
<text x="744.51" y="364" font-size="12.2" font-weight="normal" font-style="normal" fill="#000" text-anchor="middle">15</text>
<text x="60" y="363.6" font-size="12.2" font-weight="normal" font-style="normal" fill="#000" text-anchor="end" textLength="26.6" lengthAdjust="spacingAndGlyphs">Uge</text>
<text transform="translate(23.1 206.5) rotate(-90)" font-size="12.2" fill="#000" text-anchor="middle" textLength="191.5" lengthAdjust="spacingAndGlyphs">Antal personer med påvist MP</text>
<text transform="translate(797.9 210.6) rotate(-90)" font-size="12.2" fill="#000" text-anchor="middle" textLength="148" lengthAdjust="spacingAndGlyphs">Procent påvist med MP</text>
<rect x="85" y="77" width="34" height="7" fill="#FF612E"/>
<text x="126.5" y="85.4" font-size="12.2" font-weight="normal" font-style="normal" fill="#000" textLength="83.2" lengthAdjust="spacingAndGlyphs">Mycoplasma</text>
<path d="M84 103H120" stroke="#404040" stroke-width="1.9" stroke-dasharray="5.9 2.1"/>
<text x="129.5" y="107.6" font-size="12.2" font-weight="normal" font-style="normal" fill="#000" textLength="98" lengthAdjust="spacingAndGlyphs">% mycoplasma</text>
<text x="402.5" y="181.7" font-size="12.2" font-weight="normal" font-style="normal" fill="#000" text-anchor="middle" textLength="69.6" lengthAdjust="spacingAndGlyphs">Indførsel af</text>
<text x="402.8" y="198.3" font-size="12.2" font-weight="normal" font-style="normal" fill="#000" text-anchor="middle" textLength="60" lengthAdjust="spacingAndGlyphs">covid-19-</text>
<text x="402.6" y="214.6" font-size="12.2" font-weight="normal" font-style="normal" fill="#000" text-anchor="middle" textLength="72.1" lengthAdjust="spacingAndGlyphs">restriktioner</text>
<path d="M401.4 221.4V267" stroke="#000" stroke-width="1.3"/>
<path d="M397.5 266H405.2L401.4 274.2Z" fill="#000"/>
</svg></body></html>
